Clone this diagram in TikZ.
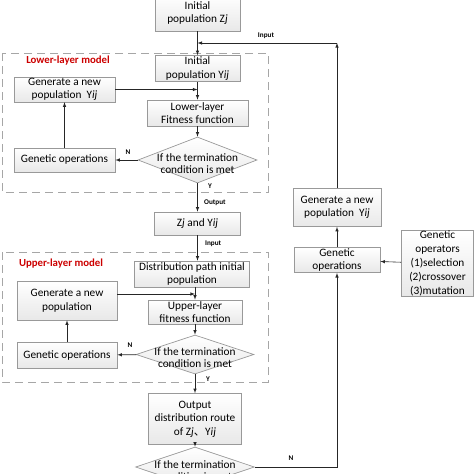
\documentclass[tikz,border=0pt]{standalone}
\usepackage{fontspec}
\setmainfont{Carlito}
\newfontfamily\cjk{Noto Sans CJK SC}
\usepackage{tikz}
\usetikzlibrary{shapes.geometric, arrows}
\tikzstyle{arrow} = [->,>=latex,draw=black!85,line width=0.6pt]
\tikzstyle{procbox} = [rectangle, draw=gray!80, line width=0.7pt, top color=white, bottom color=gray!18, align=center, inner sep=1pt, font=\fontsize{11.3}{13.5}\selectfont]
\tikzstyle{decision} = [diamond, draw=gray!80, line width=0.7pt, top color=white, bottom color=gray!18, inner sep=0pt, font=\fontsize{11.3}{13}\selectfont]
\tikzstyle{modelbox} = [draw=gray!70, line width=0.9pt, dash pattern=on 8pt off 5pt]
\tikzstyle{tag} = [font=\fontsize{7.2}{8}\selectfont\bfseries, inner sep=1pt]
\tikzstyle{modeltitle} = [text=red!80!black, font=\fontsize{10.8}{12}\selectfont\bfseries]
% text that may run over the diamond's edge
\newcommand{\condtext}{\makebox[0pt]{\raisebox{-0.5\height}[0pt][0pt]{\begin{tabular}{@{}c@{}}If the termination\\[-1pt]condition is met\end{tabular}}}}

\begin{document}
\begin{tikzpicture}[x=1pt,y=-1pt]
	\useasboundingbox (0,0) rectangle (474,474);
	
	% Model frames
	\draw [modelbox] (2,53) rectangle (268,192);
	\draw [modelbox] (2,252) rectangle (268,382);
	\node [modeltitle] (lowtitle) at (68,61) {Lower-layer model};
	\node [modeltitle] (uptitle) at (61,264) {Upper-layer model};
	
	% Lower-layer model
	\node [procbox, minimum width=85pt, minimum height=36pt] (iniZ) at (197.5,13) {Initial\\population Z\textit{j}};
	\node [procbox, minimum width=85pt, minimum height=26pt] (iniY) at (197.5,68.5) {Initial\\population Y\textit{ij}};
	\node [procbox, minimum width=101pt, minimum height=23pt] (genL) at (64.5,89.5) {Generate a new\\population\ \ Y\textit{ij}};
	\node [procbox, minimum width=101pt, minimum height=26pt] (fitL) at (197.5,113) {Lower-layer\\Fitness function};
	\node [decision, minimum width=119pt, minimum height=46pt] (decL) at (197.5,160) {\condtext};
	\node [procbox, minimum width=101pt, minimum height=24pt] (gopL) at (64.5,160) {Genetic operations};
	
	\node [procbox, minimum width=86pt, minimum height=23pt] (ZY) at (197.5,223.5) {Z\textit{j} and Y\textit{ij}};
	
	% Upper-layer model
	\node [procbox, minimum width=115pt, minimum height=26pt] (distP) at (192,274) {Distribution path initial\\population};
	\node [procbox, minimum width=100pt, minimum height=39pt] (genU) at (67,300.5) {Generate a new\\population};
	\node [procbox, minimum width=94pt, minimum height=24pt] (fitU) at (195,312) {Upper-layer\\fitness function};
	\node [decision, minimum width=118pt, minimum height=39pt] (decU) at (195,354.5) {\condtext};
	\node [procbox, minimum width=100pt, minimum height=26pt] (gopU) at (67,355) {Genetic operations};
	
	\node [procbox, minimum width=93pt, minimum height=51pt] (outR) at (195,419) {Output\\distribution route\\of Z\textit{j}{\cjk 、}Y\textit{ij}};
	\node [decision, minimum width=119pt, minimum height=40pt] (decF) at (195,467) {\condtext};
	
	% Right column
	\node [procbox, minimum width=88pt, minimum height=38pt] (genR) at (337,207.5) {Generate a new\\population\ \ Y\textit{ij}};
	\node [procbox, minimum width=86pt, minimum height=22pt] (gopR) at (337,260) {Genetic\\operations};
	\node [procbox, minimum width=72pt, minimum height=63pt, inner sep=0pt, font=\fontsize{11.3}{14}\selectfont] (gopers) at (437.5,263.5) {Genetic\\operators\\(1)selection\\(2)crossover\\(3)mutation};
	
	\coordinate (inCorner) at (337,43);
	\coordinate (inJoin) at (197.5,43);
	\coordinate (loopCorner) at (337,467);
	
	% Connectors, lower layer
	\draw [arrow] (iniZ) -- (iniY);
	\draw [arrow] (inCorner) -- (inJoin);
	\draw [arrow] (iniY) -- (fitL);
	\draw [arrow] (genL.east) -- (genL.east -| fitL.north);
	\draw [arrow] (fitL) -- (decL);
	\draw [arrow] (decL) -- (gopL);
	\draw [arrow] (gopL) -- (genL);
	\draw [arrow] (decL) -- (ZY);
	\node [tag] (inTag) at (266,36) {Input};
	\node [tag] (nL) at (128,152) {N};
	\node [tag] (yL) at (210,186) {Y};
	\node [tag, anchor=west] (outTag) at (203,203) {Output};
	
	% Connectors, upper layer
	\draw [arrow] (ZY) -- (distP.north -| ZY.south);
	\draw [arrow] (distP.south -| fitU.north) -- (fitU);
	\draw [arrow] (genU.east |- 0,294) -- (fitU.north |- 0,294);
	\draw [arrow] (fitU) -- (decU);
	\draw [arrow] (decU) -- (gopU);
	\draw [arrow] (gopU) -- (genU);
	\draw [arrow] (decU) -- (outR);
	\draw [arrow] (outR) -- (decF);
	\node [tag, anchor=west] (inTag2) at (204,244) {Input};
	\node [tag] (nU) at (130,345) {N};
	\node [tag] (yU) at (208,379) {Y};
	
	% Outer loop
	\draw [arrow] (decF.east) -- (loopCorner) -- (gopR.south);
	\draw [arrow] (gopers) -- (gopR);
	\draw [arrow] (gopR) -- (genR);
	\draw [arrow] (genR) -- (inCorner);
	\node [tag] (nF) at (291,458) {N};
	
\end{tikzpicture}
\end{document}
